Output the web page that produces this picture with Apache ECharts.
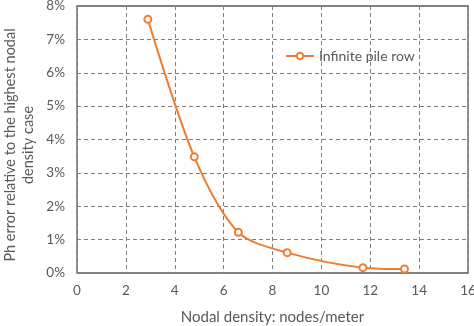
<!DOCTYPE html>
<html>
<head>
<meta charset="utf-8">
<script src="https://cdn.jsdelivr.net/npm/echarts@6/dist/echarts.min.js"></script>
<style>
  html, body { margin: 0; padding: 0; background: #fff; }
  #chart { width: 474px; height: 326px; }
</style>
</head>
<body>
<div id="chart"></div>
<script>
// Nodal density (nodes/meter) against error (%) for the infinite pile row
const densities = [2.9, 4.8, 6.6, 8.6, 11.7, 13.4];
const errorPct = [7.6, 3.48, 1.22, 0.61, 0.16, 0.12];
const seriesName = 'Infinite pile row';
const yTitle = 'Ph error relative to the highest nodal\ndensity case';
const xTicks = [0, 16, 2];   // min, max, interval
const yTicks = [0, 8, 1];

const font = 'Lato, "Open Sans", sans-serif';
const textColor = '#595959';

const chart = echarts.init(document.getElementById('chart'), null, { renderer: 'canvas' });
chart.setOption({
  animation: false,
  textStyle: { fontFamily: font },
  grid: {
    left: 77, right: 6, top: 6, bottom: 53,
    outerBoundsMode: 'none', containLabel: false,
    show: true, borderColor: '#595959', borderWidth: 1.3
  },
  // rotated two-line y-axis title, each line centred
  graphic: [{
    type: 'text',
    x: 19, y: 145,
    rotation: Math.PI / 2,
    style: {
      text: yTitle,
      fill: textColor,
      font: '14.5px ' + font,
      lineHeight: 18,
      align: 'center',
      verticalAlign: 'middle'
    }
  }],
  legend: {
    left: 285, top: 49, padding: 0,
    itemWidth: 28, itemHeight: 8,
    textStyle: { color: textColor, fontSize: 14, fontFamily: font },
    data: [seriesName]
  },
  xAxis: {
    type: 'value', min: xTicks[0], max: xTicks[1], interval: xTicks[2],
    name: 'Nodal density: nodes/meter', nameLocation: 'middle', nameGap: 37,
    nameTextStyle: { color: textColor, fontSize: 15 },
    axisLine: { show: false },
    axisTick: { show: false },
    axisLabel: { color: textColor, fontSize: 13.5, margin: 11 },
    splitLine: { lineStyle: { color: '#7f7f7f', type: [4, 3], width: 1 } }
  },
  yAxis: {
    type: 'value', min: yTicks[0], max: yTicks[1], interval: yTicks[2],
    axisLine: { show: false },
    axisTick: { show: false },
    axisLabel: { color: textColor, fontSize: 13.5, margin: 12, formatter: '{value}%' },
    splitLine: { lineStyle: { color: '#7f7f7f', type: [4, 3], width: 1 } }
  },
  series: [{
    name: seriesName,
    type: 'line',
    smooth: 0.3,
    data: densities.map((d, i) => [d, errorPct[i]]),
    symbol: 'emptyCircle',
    symbolSize: 7,
    lineStyle: { color: '#ED7D31', width: 2 },
    itemStyle: { color: '#ED7D31', borderWidth: 1.2 }
  }]
});
</script>
</body>
</html>
